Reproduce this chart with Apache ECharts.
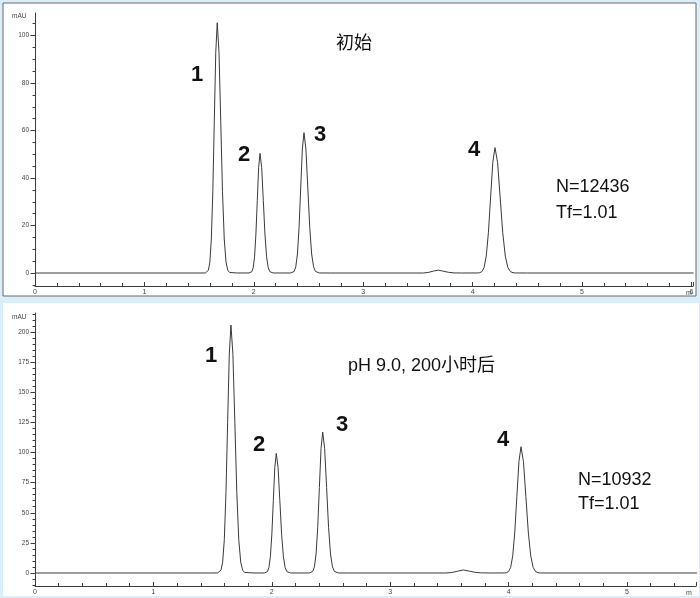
<!DOCTYPE html>
<html>
<head>
<meta charset="utf-8">
<script src="https://cdn.jsdelivr.net/npm/echarts@6/dist/echarts.min.js"></script>
<style>
html,body{margin:0;padding:0;background:#d9eefa;}
#c{width:700px;height:598px;}
</style>
</head>
<body>
<div id="c"></div>
<script>
// ---- data ----
const unitLabel = 'mAU';
const timeUnitLabel = 'm';
const peakNames = ['1', '2', '3', '4'];
const topTitle = '初始';
const bottomTitle = 'pH 9.0, 200小时后';
const topStats = ['N=12436', 'Tf=1.01'];
const bottomStats = ['N=10932', 'Tf=1.01'];

const topYLabels = [0, 20, 40, 60, 80, 100];
const topYTicks = [-5, 0, 5, 10, 15, 20, 25, 30, 35, 40, 45, 50, 55, 60, 65, 70, 75, 80, 85, 90, 95, 100, 105];
const bottomYLabels = [0, 25, 50, 75, 100, 125, 150, 175, 200];
const bottomYTicks = [-10, -5, 0, 5, 10, 15, 20, 25, 30, 35, 40, 45, 50, 55, 60, 65, 70, 75, 80, 85, 90, 95, 100, 105, 110, 115, 120, 125, 130, 135, 140, 145, 150, 155, 160, 165, 170, 175, 180, 185, 190, 195, 200, 205, 210, 215];

// time (min), absorbance (mAU) — top chromatogram (initial)
const topTrace = [
  [0, 0], [1.50, 0],
  [1.558, 0.03], [1.5715, 0.23], [1.585, 1.17], [1.5985, 4.6], [1.612, 14.3], [1.6255, 34.2], [1.639, 63.9], [1.6525, 93.0],
  [1.666, 105.4],
  [1.682, 93.0], [1.698, 63.9], [1.714, 34.2], [1.730, 14.3], [1.746, 4.6], [1.762, 1.17], [1.778, 0.23], [1.794, 0.03], [1.85, 0],
  [1.957, 0.02], [1.9695, 0.11], [1.982, 0.56], [1.9945, 2.2], [2.007, 6.8], [2.0195, 16.4], [2.032, 30.6], [2.0445, 44.5],
  [2.057, 50.4],
  [2.072, 44.5], [2.087, 30.6], [2.102, 16.4], [2.117, 6.8], [2.132, 2.2], [2.147, 0.56], [2.162, 0.11], [2.177, 0.02], [2.25, 0],
  [2.339, 0.02], [2.354, 0.13], [2.369, 0.66], [2.384, 2.6], [2.399, 8.0], [2.414, 19.2], [2.429, 35.8], [2.444, 52.2],
  [2.459, 59.1],
  [2.4765, 52.2], [2.494, 35.8], [2.5115, 19.2], [2.529, 8.0], [2.5465, 2.6], [2.564, 0.66], [2.5815, 0.13], [2.599, 0.02], [2.7, 0],
  [3.55, 0], [3.6, 0.3], [3.64, 0.8], [3.687, 1.2], [3.73, 0.8], [3.78, 0.3], [3.83, 0.05], [3.9, 0],
  [4.045, 0.02], [4.065, 0.12], [4.085, 0.59], [4.105, 2.3], [4.125, 7.1], [4.145, 17.1], [4.165, 32.0], [4.185, 46.6],
  [4.205, 52.8],
  [4.2285, 46.6], [4.252, 32.0], [4.2755, 17.1], [4.299, 7.1], [4.3225, 2.3], [4.346, 0.59], [4.3695, 0.12], [4.393, 0.02], [4.5, 0],
  [6.02, 0]
];

// time (min), absorbance (mAU) — bottom chromatogram (pH 9.0, 200 h)
const bottomTrace = [
  [0, 0], [1.48, 0],
  [1.543, 0.06], [1.557, 0.45], [1.571, 2.3], [1.585, 9.0], [1.599, 27.8], [1.613, 66.8], [1.627, 124.8], [1.641, 181.6],
  [1.655, 205.8],
  [1.6715, 181.6], [1.688, 124.8], [1.7045, 66.8], [1.721, 27.8], [1.7375, 9.0], [1.754, 2.3], [1.7705, 0.45], [1.787, 0.06], [1.85, 0],
  [1.938, 0.03], [1.9505, 0.22], [1.963, 1.1], [1.9755, 4.4], [1.988, 13.4], [2.0005, 32.2], [2.013, 60.2], [2.0255, 87.6],
  [2.038, 99.3],
  [2.053, 87.6], [2.068, 60.2], [2.083, 32.2], [2.098, 13.4], [2.113, 4.4], [2.128, 1.1], [2.143, 0.22], [2.158, 0.03], [2.23, 0],
  [2.318, 0.04], [2.332, 0.26], [2.346, 1.3], [2.36, 5.1], [2.374, 15.8], [2.388, 38.0], [2.402, 71.0], [2.416, 103.3],
  [2.430, 117.0],
  [2.4465, 103.3], [2.463, 71.0], [2.4795, 38.0], [2.496, 15.8], [2.5125, 5.1], [2.529, 1.3], [2.5455, 0.26], [2.562, 0.04], [2.65, 0],
  [3.47, 0], [3.52, 0.4], [3.57, 1.5], [3.618, 2.5], [3.67, 1.5], [3.72, 0.5], [3.77, 0.1], [3.85, 0],
  [3.965, 0.03], [3.9825, 0.23], [4.0, 1.16], [4.0175, 4.6], [4.035, 14.2], [4.0525, 34.0], [4.07, 63.6], [4.0875, 92.5],
  [4.105, 104.8],
  [4.1255, 92.5], [4.146, 63.6], [4.1665, 34.0], [4.187, 14.2], [4.2075, 4.6], [4.228, 1.16], [4.2485, 0.23], [4.269, 0.03], [4.35, 0],
  [5.6, 0]
];

// ---- chart ----
const axisColor = '#3c3c3c';
const labelColor = '#444';
const traceColor = '#3a3a3a';
const font = '"Liberation Sans", Arial, sans-serif';
const cjkFont = '"Liberation Sans", "Noto Sans CJK SC", sans-serif';

function xAxisCfg(gridIndex, maxT) {
  return {
    type: 'value', gridIndex: gridIndex, min: 0, max: maxT, interval: 1,
    axisLine: { onZero: false, lineStyle: { color: axisColor, width: 1 } },
    axisTick: { inside: true, length: 4, lineStyle: { color: axisColor } },
    minorTick: { show: true, splitNumber: 5, length: 3, lineStyle: { color: axisColor } },
    axisLabel: { fontSize: 7, color: labelColor, margin: 3, fontFamily: font, showMaxLabel: false,
                 formatter: function (v) { return String(Math.round(v)); } },
    splitLine: { show: false }, minorSplitLine: { show: false }
  };
}
function yAxisMain(gridIndex, mn, mx, labels, ticks) {
  return {
    type: 'value', gridIndex: gridIndex, min: mn, max: mx,
    axisLine: { onZero: false, lineStyle: { color: axisColor, width: 1 } },
    axisTick: { show: true, length: 2.5, customValues: ticks, lineStyle: { color: axisColor } },
    axisLabel: { fontSize: 6.5, color: labelColor, margin: 6, fontFamily: font, customValues: labels },
    splitLine: { show: false }
  };
}
function yAxisMajor(gridIndex, mn, mx, labels) {
  return {
    type: 'value', gridIndex: gridIndex, min: mn, max: mx, position: 'left',
    axisLine: { show: false, onZero: false },
    axisTick: { show: true, length: 4.5, customValues: labels, lineStyle: { color: axisColor } },
    axisLabel: { show: false },
    splitLine: { show: false }
  };
}

const chart = echarts.init(document.getElementById('c'), null, { renderer: 'canvas' });

function txt(x, y, s, opts) {
  return Object.assign({
    type: 'text', x: x, y: y, z: 50,
    style: Object.assign({ text: s, fill: '#111', font: '18px ' + font, textVerticalAlign: 'middle' }, opts || {})
  });
}
const bold = 'bold 22px ' + font;

chart.setOption({
  backgroundColor: '#d9eefa',
  animation: false,
  grid: [
    { left: 35, top: 13, width: 658, height: 273 },
    { left: 35, top: 313, width: 661, height: 273 }
  ],
  xAxis: [xAxisCfg(0, 6.015), xAxisCfg(1, 5.583)],
  yAxis: [
    yAxisMain(0, -5.47, 109.5, topYLabels, topYTicks),
    yAxisMain(1, -10.8, 215.8, bottomYLabels, bottomYTicks),
    yAxisMajor(0, -5.47, 109.5, topYLabels),
    yAxisMajor(1, -10.8, 215.8, bottomYLabels)
  ],
  series: [
    { type: 'line', xAxisIndex: 0, yAxisIndex: 0, data: topTrace, showSymbol: false, symbol: 'none',
      lineStyle: { color: traceColor, width: 1 }, z: 5 },
    { type: 'line', xAxisIndex: 1, yAxisIndex: 1, data: bottomTrace, showSymbol: false, symbol: 'none',
      lineStyle: { color: traceColor, width: 1 }, z: 5 }
  ],
  graphic: [
    { type: 'rect', shape: { x: 3, y: 3, width: 693, height: 293 }, z: -10,
      style: { fill: '#ffffff', stroke: '#6a6a6a', lineWidth: 1 } },
    { type: 'rect', shape: { x: 3, y: 303, width: 696, height: 293 }, z: -10,
      style: { fill: '#ffffff' } },
    txt(12, 16, unitLabel, { font: '6.5px ' + font, fill: labelColor }),
    txt(12, 317, unitLabel, { font: '6.5px ' + font, fill: labelColor }),
    txt(686, 293, timeUnitLabel, { font: '7px ' + font, fill: labelColor }),
    txt(686, 593, timeUnitLabel, { font: '7px ' + font, fill: labelColor }),
    txt(336, 44, topTitle, { font: '18px ' + cjkFont }),
    txt(348, 366, bottomTitle, { font: '18px ' + cjkFont }),
    txt(556, 187, topStats[0]), txt(556, 213, topStats[1]),
    txt(578, 480, bottomStats[0]), txt(578, 504, bottomStats[1]),
    txt(197, 75, peakNames[0], { font: bold, textAlign: 'center' }),
    txt(244, 155, peakNames[1], { font: bold, textAlign: 'center' }),
    txt(320, 135, peakNames[2], { font: bold, textAlign: 'center' }),
    txt(474, 150, peakNames[3], { font: bold, textAlign: 'center' }),
    txt(211, 356, peakNames[0], { font: bold, textAlign: 'center' }),
    txt(259, 445, peakNames[1], { font: bold, textAlign: 'center' }),
    txt(342, 425, peakNames[2], { font: bold, textAlign: 'center' }),
    txt(503, 440, peakNames[3], { font: bold, textAlign: 'center' })
  ]
});
</script>
</body>
</html>
